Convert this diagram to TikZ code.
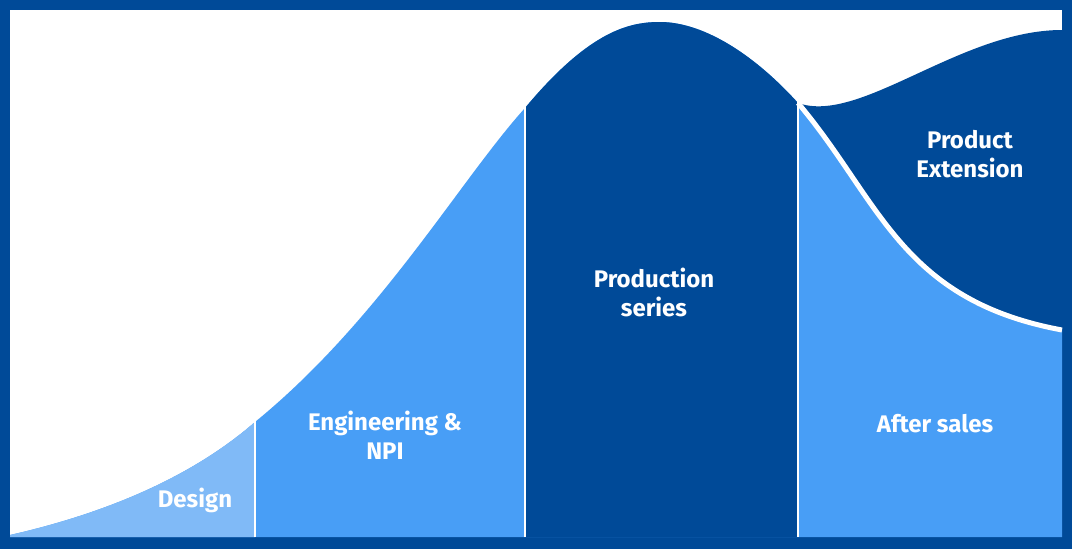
\documentclass[tikz,border=0pt]{standalone}
\usepackage{fontspec}
\setmainfont{Fira Sans}
\definecolor{Cdark}{HTML}{004A98}
\definecolor{Cmid}{HTML}{489EF6}
\definecolor{Clight}{HTML}{80BAF7}
\begin{document}
\begin{tikzpicture}[x=1pt,y=-1pt]
\tikzstyle{lbl}=[text=white,font=\fontsize{24}{29}\selectfont\bfseries,align=center]
\useasboundingbox (0,0) rectangle (1072,549);
\fill[Cdark] (0,0) rectangle (1072,549);
\fill[white] (10,10) rectangle (1062,537);
% curve under which the phases lie
\def\bell{(10,535) .. controls (120,510) and (200,470) .. (255,422)
  .. controls (380,320) and (460,180) .. (525,108)
  .. controls (590,30) and (630,22) .. (660,22)
  .. controls (700,22) and (750,50) .. (798,103)
  .. controls (880,200) and (900,300) .. (1062,330)}
\fill[Cmid] \bell -- (1062,537) -- (10,537) -- cycle;
\begin{scope}
\clip (10,10) rectangle (255,537);
\fill[Clight] \bell -- (1062,537) -- (10,537) -- cycle;
\end{scope}
\begin{scope}
\clip (525,10) rectangle (798,537);
\fill[Cdark] \bell -- (1062,537) -- (10,537) -- cycle;
\end{scope}
% extension on top
\fill[Cdark] (798,103) .. controls (860,125) and (960,30) .. (1062,30)
  -- (1062,330) .. controls (900,300) and (880,200) .. (798,103) -- cycle;
\draw[white,line width=5pt] (798,103) .. controls (880,200) and (900,300) .. (1062,330);
\foreach \xs in {255,525,798}
  \draw[white,line width=1.5pt] (\xs,10) -- (\xs,537);
\fill[white] (798,10) rectangle (1062,12);
%
\node[lbl] (design) at (195,500) {Design};
\node[lbl] (npi) at (385,435) {Engineering \&\\NPI};
\node[lbl] (prod) at (654,292) {Production\\series};
\node[lbl] (ext) at (970,154) {Product\\Extension};
\node[lbl] (after) at (935,424) {After sales};
\end{tikzpicture}
\end{document}
